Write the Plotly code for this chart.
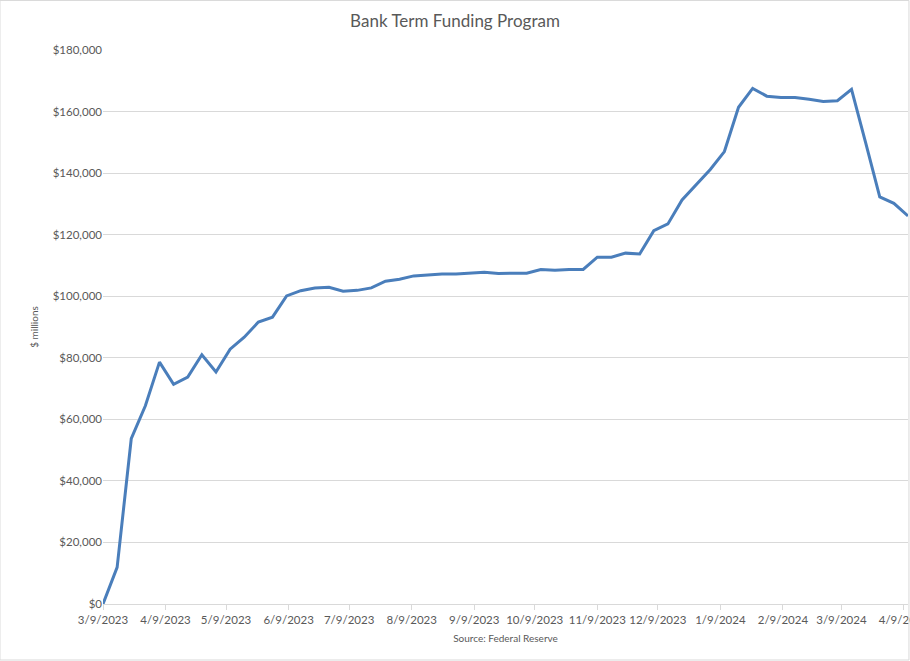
import plotly.graph_objects as go

# Weekly BTFP balances (H.4.1 release dates), $ millions
dates = [
    "2023-03-09", "2023-03-16", "2023-03-23", "2023-03-30", "2023-04-06",
    "2023-04-13", "2023-04-20", "2023-04-27", "2023-05-04", "2023-05-11",
    "2023-05-18", "2023-05-25", "2023-06-01", "2023-06-08", "2023-06-15",
    "2023-06-22", "2023-06-29", "2023-07-06", "2023-07-13", "2023-07-20",
    "2023-07-27", "2023-08-03", "2023-08-10", "2023-08-17", "2023-08-24",
    "2023-08-31", "2023-09-07", "2023-09-14", "2023-09-21", "2023-09-28",
    "2023-10-05", "2023-10-12", "2023-10-19", "2023-10-26", "2023-11-02",
    "2023-11-09", "2023-11-16", "2023-11-23", "2023-11-30", "2023-12-07",
    "2023-12-14", "2023-12-21", "2023-12-28", "2024-01-04", "2024-01-11",
    "2024-01-18", "2024-01-25", "2024-02-01", "2024-02-08", "2024-02-15",
    "2024-02-22", "2024-02-29", "2024-03-07", "2024-03-14", "2024-03-21",
    "2024-03-28", "2024-04-04", "2024-04-11",
]
balance = [
    0, 11900, 53700, 64400, 78600, 71400, 73700, 81000, 75400, 82800,
    86700, 91600, 93200, 100100, 101800, 102700, 102900, 101600, 101900, 102700,
    104900, 105500, 106600, 106900, 107200, 107200, 107500, 107800, 107400, 107400,
    107500, 108700, 108400, 108700, 108700, 112700, 112700, 114000, 113700, 121300,
    123500, 131300, 136100, 141200, 147000, 161400, 167500, 165000, 164600, 164600,
    164000, 163300, 163500, 167200, 149900, 132300, 130200, 126100,
]

tick_dates = [
    "2023-03-09", "2023-04-09", "2023-05-09", "2023-06-09", "2023-07-09",
    "2023-08-09", "2023-09-09", "2023-10-09", "2023-11-09", "2023-12-09",
    "2024-01-09", "2024-02-09", "2024-03-09", "2024-04-09",
]
tick_labels = [
    "3/9/2023", "4/9/2023", "5/9/2023", "6/9/2023", "7/9/2023",
    "8/9/2023", "9/9/2023", "10/9/2023", "11/9/2023", "12/9/2023",
    "1/9/2024", "2/9/2024", "3/9/2024", "4/9/2024",
]

grey = "#595959"
grid = "#D9D9D9"
font_name = "Lato, Open Sans, sans-serif"

fig = go.Figure()

fig.add_trace(go.Scatter(
    x=dates,
    y=balance,
    mode="lines",
    line=dict(color="#4A7EBB", width=3),
    showlegend=False,
    cliponaxis=False,
))

fig.update_layout(
    width=910,
    height=661,
    margin=dict(l=103, r=2, t=50, b=57, autoexpand=False),
    paper_bgcolor="white",
    plot_bgcolor="white",
    font=dict(family=font_name, color=grey, size=12),
    title=dict(
        text="Bank Term Funding Program",
        x=0.5, xanchor="center",
        y=1 - 21 / 661, yanchor="middle",
        font=dict(size=17, color=grey),
    ),
    shapes=[dict(
        type="rect", xref="paper", yref="paper",
        x0=-0.128, x1=1.0012, y0=-0.1011, y1=1.0894,
        line=dict(color=grid, width=1),
    )],
)

fig.update_xaxes(
    type="date",
    range=["2023-03-09", "2024-04-11"],
    tickvals=tick_dates,
    ticktext=tick_labels,
    tickangle=0,
    automargin=False,
    ticklabeloverflow="allow",
    showgrid=False,
    showline=True,
    linecolor=grid,
    linewidth=1,
    ticks="outside",
    ticklen=5,
    tickcolor=grid,
    tickfont=dict(size=11.5, color=grey),
    title=dict(text="Source: Federal Reserve", font=dict(size=10, color=grey), standoff=10),
)

fig.update_yaxes(
    range=[0, 180000],
    dtick=20000,
    tickprefix="$",
    tickformat=",",
    automargin=False,
    showgrid=True,
    gridcolor=grid,
    gridwidth=1,
    zeroline=False,
    showline=False,
    ticks="",
    tickfont=dict(size=11.5, color=grey),
    title=dict(text="$ millions", font=dict(size=10, color=grey), standoff=12),
)

# drop the browser's default 8px body margin so the chart sits at the page corner
fig.write_html(
    "out.html",
    config={"displayModeBar": False},
    post_script="document.body.style.margin='0';",
)
